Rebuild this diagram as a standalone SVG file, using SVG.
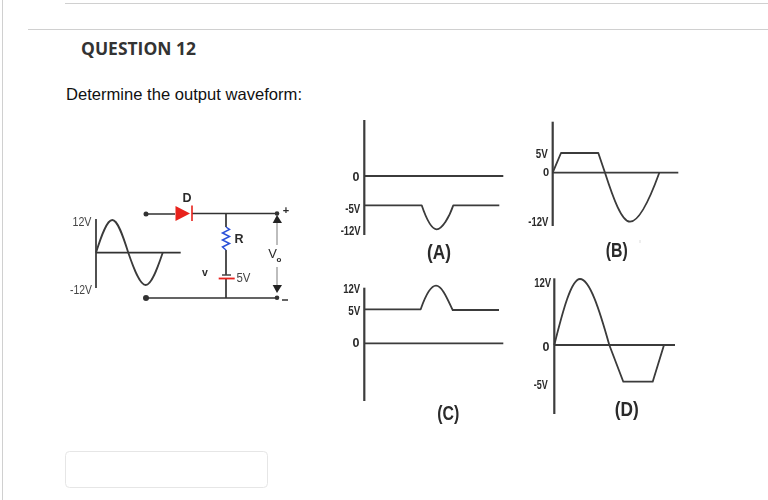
<svg xmlns="http://www.w3.org/2000/svg" width="768" height="500" viewBox="0 0 768 500">
<style>
.page{stroke:#d0d0d0;stroke-width:1;fill:none}
.ax{stroke:#3c3c3c;stroke-width:2.2;fill:none}
.w{stroke:#3a3a3a;stroke-width:1.800;fill:none;stroke-linejoin:round}
.b{stroke:#333;stroke-width:1.700;fill:none}
.thin{stroke:#888;stroke-width:1.100;fill:none}
text{font-family:"Liberation Sans",Arial,sans-serif;fill:#2a2a2a}
.l{font-size:12.500px;font-weight:bold;text-anchor:middle}
.c{font-size:12px;text-anchor:middle;fill:#444}
.o{font-size:21px;font-weight:bold;text-anchor:middle}
.dot{fill:#333}
.arr{fill:#222}
</style>
<defs><filter id="soft" x="-5%" y="-5%" width="110%" height="110%"><feGaussianBlur stdDeviation="0.35"/></filter></defs>
<rect width="768" height="500" fill="#fff"/>
<g id="page">
<path class="page" d="M2.500 0V500M65 3.500H768M28 29.500H768"/>
<text x="81" y="55" style="font-family:'Open Sans',sans-serif;font-size:18px;font-weight:700;fill:#333" textLength="115" lengthAdjust="spacingAndGlyphs">QUESTION 12</text>
<text x="66" y="99.500" style="font-size:16.500px;fill:#111" textLength="236" lengthAdjust="spacingAndGlyphs">Determine the output waveform:</text>
<rect x="65.500" y="451.500" width="202" height="36" rx="4" fill="#fff" stroke="#e6e6e6"/>
</g>
<g filter="url(#soft)">
<g id="connectors">
<path class="b" d="M146 214H175M192 213.500H277M226 213.500V227M226 250V275M226 279V298M146 298H277"/>
<path class="thin" d="M277 223V245M277 267V285"/>
</g>
<g id="input-wave">
<path class="b" d="M96 219V288M96 252.700H180.700"/>
<path class="w" d="M96 252.700C101.400 235.600 106.900 220 112.300 220C117.700 220 122.900 235.600 128.300 252.700C134.100 269.600 139.900 285 145.700 285C151.400 285 157 269.600 162.700 252.700"/>
<text class="c" x="82" y="226" textLength="19" lengthAdjust="spacingAndGlyphs">12V</text>
<text class="c" x="81" y="293.500" textLength="22" lengthAdjust="spacingAndGlyphs">-12V</text>
</g>
<g id="source-terminals">
<circle class="dot" cx="146" cy="214" r="2.500"/>
<circle class="dot" cx="146" cy="298" r="3"/>
<circle class="dot" cx="277" cy="213.500" r="2.300"/>
<circle class="dot" cx="277" cy="297.700" r="2.300"/>
</g>
<g id="diode">
<path d="M175.500 206V221L190 213.500Z" fill="#e8201c"/>
<path d="M192 205.500V221" stroke="#e8201c" stroke-width="1.600"/>
<text class="l" x="187" y="201.500" style="font-size:12.500px">D</text>
</g>
<g id="resistor">
<path d="M226 227L229.500 229.500L222.500 233L229.500 236.500L222.500 240L229.500 243.500L222.500 247L226 250" fill="none" stroke="#2b50d8" stroke-width="1.500"/>
<text class="l" x="239" y="242.500" style="font-size:12.500px">R</text>
</g>
<g id="battery">
<path d="M222 275H231" stroke="#444" stroke-width="1.500"/>
<path d="M218.700 278.500H234.700" stroke="#e8201c" stroke-width="1.800"/>
<text class="l" x="205" y="276" style="font-size:10.500px">v</text>
<text class="c" x="243.500" y="281.500" textLength="14" lengthAdjust="spacingAndGlyphs">5V</text>
</g>
<g id="output">
<path class="arr" d="M277 215L272.700 223H282Z"/>
<path class="arr" d="M277 293L272.700 285H282Z"/>
<text class="l" x="272.500" y="258" style="font-size:13px;font-weight:normal">V</text>
<text class="l" x="279" y="262" style="font-size:8px">o</text>
<text class="l" x="286" y="213.500" style="font-size:11px">+</text>
<path d="M282 300H288" stroke="#333" stroke-width="1.500"/>
</g>
<g id="option-a">
<path class="ax" d="M364.300 120V235"/>
<path class="w" d="M364.300 176H503.300"/>
<path class="w" d="M364.300 205.300H421.700C426 218 431 229.300 436.700 229.300C442 229.300 449 218 453.300 205.300H499.300"/>
<text class="l" x="356" y="180.500">0</text>
<text class="l" x="352.700" y="212.500" textLength="15" lengthAdjust="spacingAndGlyphs">-5V</text>
<text class="l" x="350.700" y="234.500" textLength="20" lengthAdjust="spacingAndGlyphs">-12V</text>
<text class="o" x="439" y="259" textLength="24" lengthAdjust="spacingAndGlyphs">(A)</text>
</g>
<g id="option-b">
<path class="ax" d="M552.700 121.700V226"/>
<path class="w" d="M552.700 172.700H678.300"/>
<path class="w" d="M552.700 172.700L561 153H598.300L605 172.700C613.300 198.400 621.700 221.700 630 221.700C639 221.700 650 198.400 659.300 172.700"/>
<text class="l" x="541.700" y="157.500" textLength="12" lengthAdjust="spacingAndGlyphs">5V</text>
<text class="l" x="546" y="175.500" style="font-size:11px">0</text>
<text class="l" x="538.300" y="226" textLength="20" lengthAdjust="spacingAndGlyphs">-12V</text>
<text class="o" x="616.700" y="256.500" textLength="22" lengthAdjust="spacingAndGlyphs">(B)</text>
<path d="M640 240V243" stroke="#ddd"/>
</g>
<g id="option-c">
<path class="ax" d="M364.300 287.700V401"/>
<path class="w" d="M364.300 309.300H420.700C425 297 430 285.700 436 285.700C442 285.700 447 298 452.700 310H499"/>
<path class="w" d="M364.300 343.300H503.300"/>
<text class="l" x="351.700" y="292.500" textLength="17" lengthAdjust="spacingAndGlyphs">12V</text>
<text class="l" x="354.300" y="314.500" textLength="12" lengthAdjust="spacingAndGlyphs">5V</text>
<text class="l" x="356" y="347">0</text>
<text class="o" x="448.300" y="419.500" textLength="22" lengthAdjust="spacingAndGlyphs">(C)</text>
</g>
<g id="option-d">
<path class="ax" d="M554.300 278.300V414"/>
<path class="w" d="M554.300 345H675"/>
<path class="w" d="M554.300 345C562.900 310.400 571.400 279 580 279C589.700 279 599.500 310 609.300 345L623.300 381.700H652.700L664 345"/>
<text class="l" x="542.700" y="287" textLength="17" lengthAdjust="spacingAndGlyphs">12V</text>
<text class="l" x="546" y="351">0</text>
<text class="l" x="540.700" y="388.500" textLength="14" lengthAdjust="spacingAndGlyphs">-5V</text>
<text class="o" x="626.700" y="416" textLength="24" lengthAdjust="spacingAndGlyphs">(D)</text>
</g>
</g>
</svg>
